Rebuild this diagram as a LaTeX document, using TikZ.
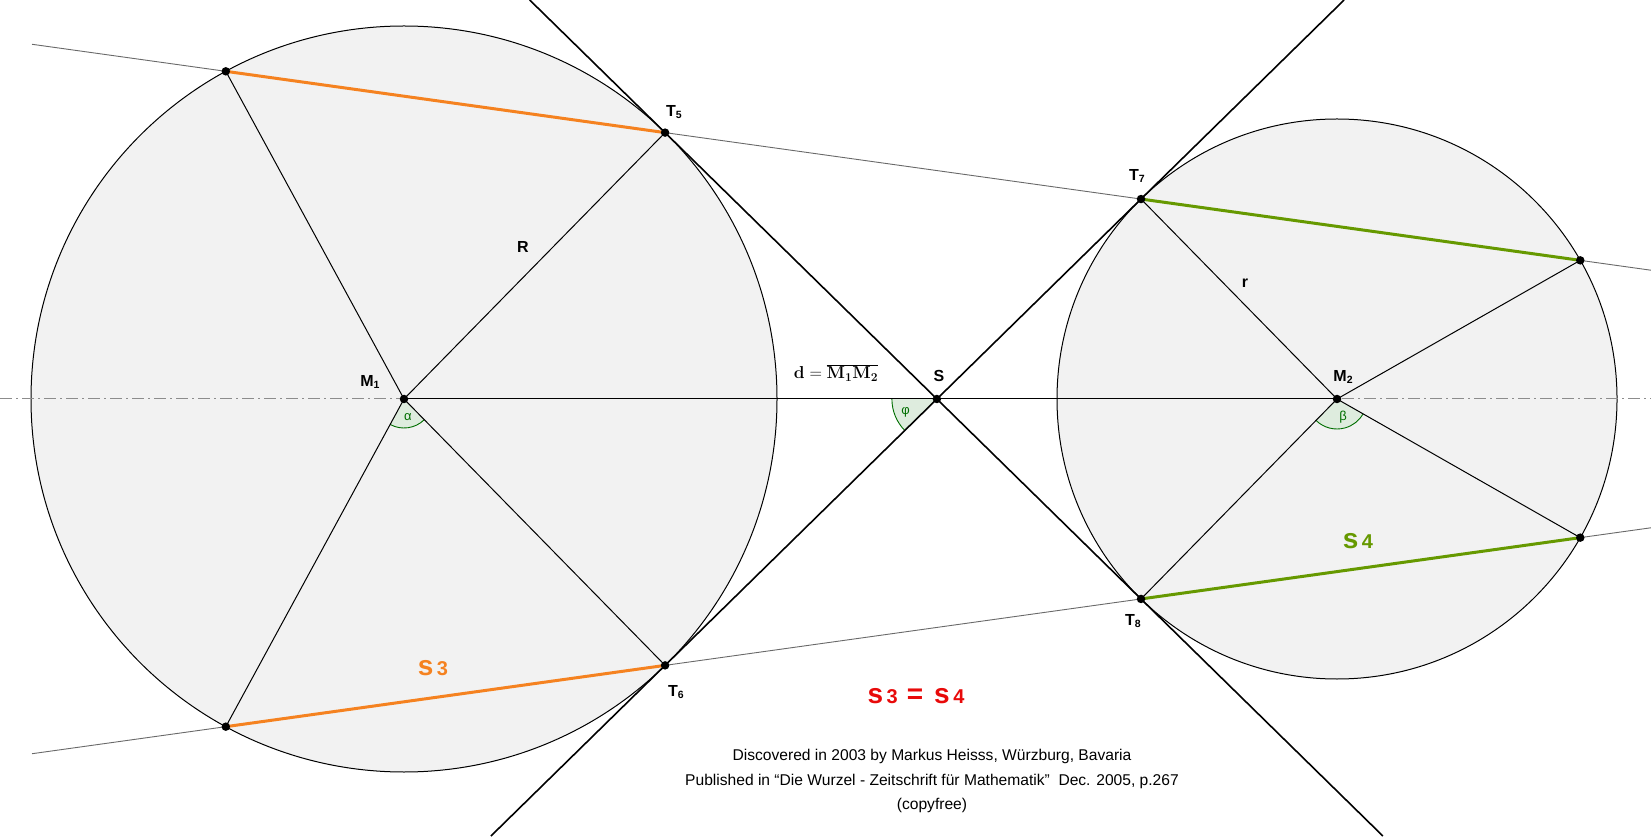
\documentclass[tikz,border=0pt]{standalone}
\usepackage[no-math]{fontspec}
\setmainfont{Liberation Sans}
\definecolor{circfill}{RGB}{242,242,242}
\definecolor{chordorange}{RGB}{245,130,32}
\definecolor{chordgreen}{RGB}{102,153,0}
\definecolor{eqred}{RGB}{232,10,10}
\definecolor{angfillc}{RGB}{222,236,222}
\definecolor{angline}{RGB}{0,110,0}
\definecolor{secgray}{RGB}{105,105,105}
\definecolor{axisgray}{RGB}{140,140,140}
\newcommand\lsub[1]{\raisebox{-0.15ex}{\fontsize{10.5}{10.5}\selectfont\bfseries #1}}
\newcommand\bigs[1]{{\fontsize{28}{28}\selectfont\bfseries s}\hspace{3.5pt}{\fontsize{20}{20}\selectfont\bfseries #1}}
\begin{document}
\begin{tikzpicture}[x=1pt,y=1pt,
  dot/.style={circle,fill=black,inner sep=0pt,minimum size=8.5pt},
  lbl/.style={font=\fontsize{16}{16}\selectfont\bfseries,inner sep=0pt},
  greek/.style={font=\fontsize{13}{13}\selectfont,text=angline,inner sep=0pt},
  circ/.style={draw=black,line width=1pt,fill=circfill},
  radius line/.style={draw=black,line width=1pt},
  tangent/.style={draw=black,line width=1.6pt},
  secant/.style={draw=secgray,line width=0.9pt},
  axisline/.style={draw=axisgray,line width=1pt,dash pattern=on 12pt off 4pt on 2pt off 4pt},
  ochord/.style={draw=chordorange,line width=3pt},
  gchord/.style={draw=chordgreen,line width=3pt},
  angsec/.style={fill=angfillc},
  angarc/.style={draw=angline,line width=0.9pt}]
\useasboundingbox (0,0) rectangle (1651,836);
\clip (0,0) rectangle (1651,836);
% points
\coordinate (M1) at (404,437);
\coordinate (M2) at (1337,437);
\coordinate (S) at (936.9,437);
\coordinate (T5) at (665.08,703.37);
\coordinate (T6) at (665.08,170.63);
\coordinate (T7) at (1141.02,636.95);
\coordinate (T8) at (1141.02,237.05);
\coordinate (P1) at (225.81,764.67);
\coordinate (P2) at (225.81,109.33);
\coordinate (P3) at (1580.25,575.65);
\coordinate (P4) at (1580.25,298.35);
\coordinate (L1a) at (32,791.72);
\coordinate (L1b) at (1651,565.77);
\coordinate (L2a) at (32,82.28);
\coordinate (L2b) at (1651,308.23);
\coordinate (TAt) at (529.7,836);
\coordinate (TAb) at (1382.85,0);
\coordinate (TBt) at (1344.1,836);
\coordinate (TBb) at (490.95,0);
\coordinate (AxL) at (0,437);
\coordinate (AxR) at (1651,437);
% circles
\path[circ] (M1) circle[radius=373];
\path[circ] (M2) circle[radius=280];
% angle sectors
\fill[angsec] (M1) -- ++(241.46:29pt) arc[start angle=241.46,end angle=314.42,radius=29pt] -- cycle;
\draw[angarc] (M1) ++(241.46:29pt) arc[start angle=241.46,end angle=314.42,radius=29pt];
\fill[angsec] (S) -- ++(180:45pt) arc[start angle=180,end angle=224.42,radius=45pt] -- cycle;
\draw[angarc] (S) ++(180:45pt) arc[start angle=180,end angle=224.42,radius=45pt];
\fill[angsec] (M2) -- ++(225.58:30pt) arc[start angle=225.58,end angle=330.32,radius=30pt] -- cycle;
\draw[angarc] (M2) ++(225.58:30pt) arc[start angle=225.58,end angle=330.32,radius=30pt];
% axis and secants
\draw[axisline] (AxL) -- (AxR);
\draw[secant] (L1a) -- (L1b);
\draw[secant] (L2a) -- (L2b);
\draw[radius line] (M1) -- (M2);
% radii
\draw[radius line] (M1) -- (P1);
\draw[radius line] (M1) -- (T5);
\draw[radius line] (M1) -- (P2);
\draw[radius line] (M1) -- (T6);
\draw[radius line] (M2) -- (T7);
\draw[radius line] (M2) -- (P3);
\draw[radius line] (M2) -- (T8);
\draw[radius line] (M2) -- (P4);
% chords
\draw[ochord] (P1) -- (T5);
\draw[ochord] (P2) -- (T6);
\draw[gchord] (T7) -- (P3);
\draw[gchord] (T8) -- (P4);
% tangents
\draw[tangent] (TAt) -- (TAb);
\draw[tangent] (TBt) -- (TBb);
% dots
\foreach \p in {M1,M2,S,T5,T6,T7,T8,P1,P2,P3,P4} \node[dot] at (\p) {};
% labels
\node[lbl] (lM1) at (370,454) {M\lsub{1}};
\node[lbl] (lS) at (939,460) {S};
\node[lbl] (lM2) at (1343,459) {M\lsub{2}};
\node[lbl] (lT5) at (674,724) {T\lsub{5}};
\node[lbl] (lT6) at (676,144) {T\lsub{6}};
\node[lbl] (lT7) at (1137,660) {T\lsub{7}};
\node[lbl] (lT8) at (1133,215) {T\lsub{8}};
\node[lbl] (lR) at (523,588.5) {R};
\node[lbl] (lr) at (1245,553) {r};
\node[inner sep=0pt,font=\fontsize{17.5}{17.5}\selectfont] (ld) at (836,463) {$\mathbf{d}=\overline{\mathbf{M_1M_2}}$};
\node[greek] (la) at (408,419) {α};
\node[greek] (lphi) at (905.7,423.3) {φ};
\node[greek] (lb) at (1343,419) {β};
\node[inner sep=0pt,text=chordorange] (ls3) at (433,168) {\bigs{3}};
\node[inner sep=0pt,text=chordgreen] (ls4) at (1358,295) {\bigs{4}};
\node[inner sep=0pt,text=eqred] (leq) at (916,140) {\bigs{3}\hspace{9pt}{\fontsize{28}{28}\selectfont\bfseries =}\hspace{11pt}\bigs{4}};
\node[inner sep=0pt,align=center,font=\fontsize{15.6}{24.5}\selectfont] (info) at (932,55)
  {Discovered in 2003 by Markus Heisss, Würzburg, Bavaria\\
   Published in “Die Wurzel - Zeitschrift für Mathematik”\ \ Dec. 2005, p.267\\
   (copyfree)};
\end{tikzpicture}
\end{document}
